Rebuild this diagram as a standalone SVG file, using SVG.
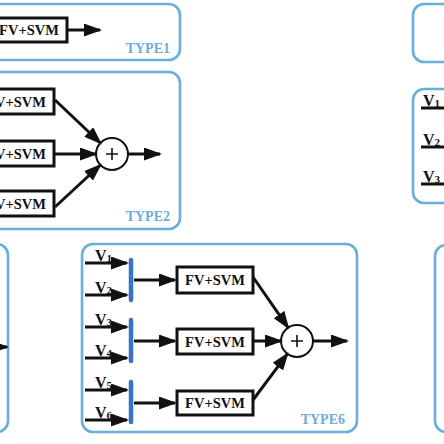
<svg xmlns="http://www.w3.org/2000/svg" width="444" height="444" viewBox="0 0 444 444">
<style>
.panel{fill:#fff;stroke:#6aaedb;stroke-width:2.6}
.box{fill:#fff;stroke:#111;stroke-width:3}
.bt{font-family:"Liberation Serif",serif;font-weight:bold;font-size:14.5px;fill:#111;text-anchor:middle}
.ty{font-family:"Liberation Serif",serif;font-weight:bold;font-size:14px;fill:#6aaedb;text-anchor:end}
.vl{font-family:"Liberation Serif",serif;font-weight:bold;font-size:16px;fill:#111}
.sub{font-size:11px}
.ln{stroke:#111;stroke-width:3;fill:none}
.arr{stroke:#111;stroke-width:3;fill:none;marker-end:url(#ah)}
.bar{stroke:#3b72c2;stroke-width:4.5;stroke-linecap:round}
.sum{fill:#fff;stroke:#111;stroke-width:2}
.plus{stroke:#111;stroke-width:1.6}
</style>
<defs>
<marker id="ah" markerUnits="userSpaceOnUse" markerWidth="18" markerHeight="13" refX="16" refY="6.5" orient="auto">
<path d="M0,0 L18,6.5 L0,13 z" fill="#111"/>
</marker>
</defs>
<rect width="444" height="444" fill="#fff"/>

<g id="type1">
<rect class="panel" x="-40" y="4" width="220" height="56" rx="11"/>
<rect class="box" x="-9" y="18" width="76" height="24"/>
<text class="bt" x="29" y="35">FV+SVM</text>
<text class="ty" x="170" y="53">TYPE1</text>
</g>

<g id="type2">
<rect class="panel" x="-40" y="72" width="220" height="157" rx="11"/>
<rect class="box" x="-22" y="89" width="76" height="25"/>
<text class="bt" x="16" y="106.5">FV+SVM</text>
<rect class="box" x="-22" y="141" width="76" height="25"/>
<text class="bt" x="16" y="158.5">FV+SVM</text>
<rect class="box" x="-22" y="191" width="76" height="25"/>
<text class="bt" x="16" y="208.5">FV+SVM</text>
<circle class="sum" cx="112" cy="154" r="16"/>
<path class="plus" d="M106,154 H118 M112,148 V160"/>
<text class="ty" x="170" y="221">TYPE2</text>
</g>

<g id="type5">
<rect class="panel" x="-60" y="244" width="68" height="188" rx="11"/>
</g>

<g id="type6">
<rect class="panel" x="82" y="244" width="275" height="188" rx="11"/>
<line class="bar" x1="131" y1="260" x2="131" y2="300"/>
<line class="bar" x1="131" y1="320" x2="131" y2="361"/>
<line class="bar" x1="131" y1="382" x2="131" y2="422"/>
<text class="vl" x="95" y="261">V<tspan class="sub" dy="1">1</tspan></text>
<text class="vl" x="95" y="293">V<tspan class="sub" dy="1">2</tspan></text>
<text class="vl" x="95" y="325">V<tspan class="sub" dy="1">3</tspan></text>
<text class="vl" x="95" y="356">V<tspan class="sub" dy="1">4</tspan></text>
<text class="vl" x="95" y="388">V<tspan class="sub" dy="1">5</tspan></text>
<text class="vl" x="95" y="418">V<tspan class="sub" dy="1">6</tspan></text>
<rect class="box" x="177" y="267" width="76" height="26"/>
<text class="bt" x="215" y="285">FV+SVM</text>
<rect class="box" x="177" y="329" width="76" height="25"/>
<text class="bt" x="215" y="346.5">FV+SVM</text>
<rect class="box" x="177" y="391" width="76" height="24"/>
<text class="bt" x="215" y="408">FV+SVM</text>
<circle class="sum" cx="297" cy="341" r="16"/>
<path class="plus" d="M291,341 H303 M297,335 V347"/>
<text class="ty" x="345" y="424">TYPE6</text>
</g>

<g id="type3">
<rect class="panel" x="413" y="4" width="80" height="58" rx="11"/>
</g>

<g id="type4">
<rect class="panel" x="413" y="89" width="80" height="114" rx="11"/>
<text class="vl" x="423" y="106">V<tspan class="sub" dy="1">1</tspan></text>
<text class="vl" x="423" y="145">V<tspan class="sub" dy="1">2</tspan></text>
<text class="vl" x="423" y="182">V<tspan class="sub" dy="1">3</tspan></text>
<path class="ln" d="M421,108 H450 M421,147 H450 M421,184 H450"/>
</g>

<g id="type7">
<rect class="panel" x="435" y="245" width="80" height="187" rx="11"/>
</g>

<g id="connectors">
<path class="arr" d="M67,30 H100"/>
<path class="arr" d="M55,100 L100.4,143"/>
<path class="arr" d="M54,154 H96"/>
<path class="arr" d="M55,207 L100.3,165"/>
<path class="arr" d="M128,154 H160"/>
<path class="arr" d="M-20,347 H7"/>
<path class="arr" d="M85,263 H127"/>
<path class="arr" d="M85,295 H127"/>
<path class="arr" d="M85,327 H127"/>
<path class="arr" d="M85,358 H127"/>
<path class="arr" d="M85,390 H127"/>
<path class="arr" d="M85,420 H127"/>
<path class="arr" d="M134,280 H175"/>
<path class="arr" d="M134,341 H175"/>
<path class="arr" d="M134,403 H175"/>
<path class="arr" d="M253,277 L288.1,327.7"/>
<path class="arr" d="M253,341 H281"/>
<path class="arr" d="M253,400 L287.4,353.8"/>
<path class="arr" d="M313,341 H347"/>
</g>
</svg>
